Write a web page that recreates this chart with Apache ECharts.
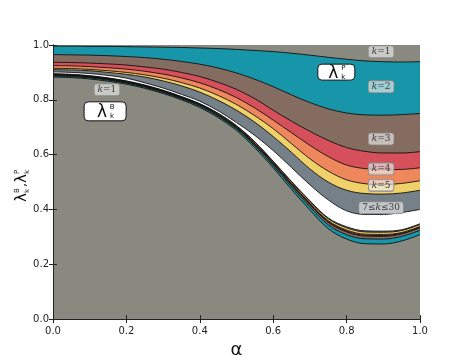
<!DOCTYPE html>
<html><head><meta charset="utf-8">
<script src="https://cdn.jsdelivr.net/npm/echarts@6/dist/echarts.min.js"></script>
<style>html,body{margin:0;padding:0;background:#fff}#c{width:474px;height:364px}</style>
</head><body><div id="c"></div>
<script>
// x values (alpha)
const alpha = [0,0.05,0.1,0.15,0.2,0.25,0.3,0.35,0.4,0.45,0.5,0.55,0.6,0.65,0.7,0.75,0.8,0.85,0.9,0.95,1.0];
// P curves: lower edge of each lambda^P band (stacked down from 1)
const curveP1 = [0.996,0.996,0.995,0.995,0.994,0.993,0.992,0.991,0.989,0.987,0.984,0.980,0.976,0.970,0.963,0.955,0.948,0.942,0.939,0.938,0.939];
const curveP2 = [0.965,0.964,0.963,0.961,0.958,0.954,0.948,0.940,0.930,0.916,0.898,0.875,0.848,0.818,0.790,0.767,0.752,0.745,0.744,0.746,0.750];
const curveP3 = [0.937,0.936,0.934,0.931,0.927,0.920,0.912,0.900,0.885,0.864,0.838,0.804,0.762,0.722,0.685,0.652,0.626,0.612,0.606,0.606,0.611];
const curveP4 = [0.925,0.924,0.921,0.917,0.912,0.904,0.894,0.880,0.862,0.838,0.808,0.770,0.726,0.680,0.634,0.593,0.562,0.549,0.545,0.546,0.552];
const curveP5 = [0.915,0.914,0.911,0.906,0.900,0.891,0.879,0.863,0.843,0.816,0.783,0.742,0.695,0.640,0.585,0.540,0.508,0.494,0.491,0.495,0.505];
const curveP6 = [0.910,0.909,0.906,0.900,0.893,0.883,0.869,0.851,0.828,0.798,0.762,0.718,0.666,0.608,0.548,0.500,0.470,0.458,0.456,0.460,0.470];
const curveP7 = [0.902,0.900,0.896,0.889,0.879,0.862,0.843,0.820,0.795,0.760,0.717,0.670,0.615,0.553,0.490,0.435,0.395,0.382,0.382,0.389,0.400];
// B: lambda^B_1 curve and the thin band values of k=2..6 and 7<=k<=30 stacked on it
const curveB1  = [0.883,0.881,0.876,0.868,0.857,0.842,0.823,0.800,0.772,0.735,0.688,0.625,0.552,0.473,0.398,0.330,0.292,0.275,0.274,0.285,0.308];
const lambdaB2 = [0.004,0.004,0.004,0.004,0.004,0.004,0.004,0.004,0.005,0.005,0.006,0.007,0.008,0.010,0.012,0.014,0.016,0.018,0.018,0.017,0.016];
const lambdaB3 = [0.003,0.003,0.003,0.003,0.003,0.003,0.003,0.003,0.004,0.004,0.004,0.005,0.006,0.007,0.008,0.009,0.010,0.010,0.010,0.009,0.009];
const lambdaB4 = [0.001,0.001,0.001,0.001,0.001,0.001,0.001,0.001,0.001,0.001,0.001,0.002,0.002,0.002,0.002,0.003,0.003,0.003,0.003,0.002,0.002];
const lambdaB5 = [0.001,0.001,0.001,0.001,0.001,0.001,0.001,0.001,0.001,0.002,0.002,0.002,0.002,0.003,0.003,0.003,0.004,0.004,0.004,0.003,0.003];
const lambdaB6 = [0.002,0.002,0.002,0.002,0.002,0.002,0.002,0.002,0.002,0.003,0.003,0.004,0.004,0.005,0.006,0.007,0.008,0.008,0.008,0.007,0.007];
const lambdaB7 = [0.001,0.001,0.001,0.001,0.001,0.001,0.001,0.001,0.001,0.001,0.002,0.002,0.002,0.002,0.003,0.003,0.004,0.004,0.004,0.003,0.003];
// tick labels
const xTicks = ['0.0','0.2','0.4','0.6','0.8','1.0'];
const yTicks = ['0.0','0.2','0.4','0.6','0.8','1.0'];
// annotation texts and their data positions
const tagTexts = ['{i|k}=1','{i|k}=2','{i|k}=3','{i|k}=4','{i|k}=5','7≤{i|k}≤30','{i|k}=1'];
const tagPos = [[0.894,0.975],[0.894,0.848],[0.894,0.657],[0.894,0.548],[0.894,0.488],[0.894,0.406],[0.147,0.837]];
const boxPos = {P:[0.772,0.901], B:[0.142,0.758]};

const C = {gray:'#8a897f', teal:'#1696a8', brown:'#856c60', red:'#d6505c', orange:'#ee885c', yellow:'#f0d068', slate:'#768088', white:'#ffffff'};

function cum(list){ return alpha.map((_,i)=>list.reduce((s,a)=>s+a[i],0)); }
const cumB2 = cum([curveB1,lambdaB2]);
const cumB3 = cum([curveB1,lambdaB2,lambdaB3]);
const cumB4 = cum([curveB1,lambdaB2,lambdaB3,lambdaB4]);
const cumB5 = cum([curveB1,lambdaB2,lambdaB3,lambdaB4,lambdaB5]);
const cumB6 = cum([curveB1,lambdaB2,lambdaB3,lambdaB4,lambdaB5,lambdaB6]);
const cumB7 = cum([curveB1,lambdaB2,lambdaB3,lambdaB4,lambdaB5,lambdaB6,lambdaB7]);

function pts(arr){ return alpha.map((a,i)=>[a, arr[i]]); }
function area(arr,color){
  return {type:'line', data:pts(arr), smooth:0.35, showSymbol:false, symbol:'none',
    lineStyle:{color:'#111', width:0.9}, areaStyle:{color:color, opacity:1},
    z:2, silent:true, animation:false, clip:true};
}
const chart = echarts.init(document.getElementById('c'), null, {renderer:'canvas'});
const axisCommon = {type:'value', min:0, max:1, interval:0.2, z:5,
  splitLine:{show:false},
  axisLine:{show:true, lineStyle:{color:'#222', width:1}},
  axisTick:{show:true, inside:true, length:4, lineStyle:{color:'#222'}}};
chart.setOption({
  animation:false,
  grid:{left:53, right:54, top:45, bottom:36, show:true, backgroundColor:C.gray, borderWidth:0},
  xAxis:[
    Object.assign({}, axisCommon, {position:'bottom', name:'α', nameLocation:'middle', nameGap:21,
      nameTextStyle:{fontSize:18, color:'#111', fontFamily:'DejaVu Sans'},
      axisLabel:{fontSize:10, color:'#222', margin:7, fontFamily:'DejaVu Sans',
        formatter:(v)=>xTicks[Math.round(v/0.2)]}}),
    Object.assign({}, axisCommon, {position:'top', axisLabel:{show:false}})
  ],
  yAxis:[
    Object.assign({}, axisCommon, {position:'left',
      axisLabel:{fontSize:10, color:'#222', margin:4, fontFamily:'DejaVu Sans',
        formatter:(v)=>yTicks[Math.round(v/0.2)]}}),
    Object.assign({}, axisCommon, {position:'right', axisLabel:{show:false}})
  ],
  series:[
    area(curveP1,C.teal), area(curveP2,C.brown), area(curveP3,C.red), area(curveP4,C.orange),
    area(curveP5,C.yellow), area(curveP6,C.slate), area(curveP7,C.white),
    area(cumB7,C.slate), area(cumB6,C.yellow), area(cumB5,C.orange), area(cumB4,C.red),
    area(cumB3,C.brown), area(cumB2,C.teal), area(curveB1,C.gray)
  ]
});

const px = (p)=>chart.convertToPixel({gridIndex:0}, p);
const graphics = [];
tagTexts.forEach((t,i)=>{
  const p = px(tagPos[i]);
  graphics.push({type:'text', x:p[0], y:p[1], z:50, silent:true, style:{
    text:t, fill:'#3a3a3a', fontSize:9, fontFamily:'DejaVu Serif', align:'center', verticalAlign:'middle',
    backgroundColor:'rgba(240,240,240,0.62)', borderColor:'#8a8a8a', borderWidth:0.8, borderRadius:2, padding:[1,3,1,3],
    rich:{i:{fontStyle:'italic', fontSize:9, fontFamily:'DejaVu Serif', fill:'#3a3a3a'}}}});
});
function lamBox(pos, sup, w, h){
  const p = px(pos);
  const cx = p[0], cy = p[1];
  graphics.push({type:'rect', z:50, silent:true, shape:{x:cx-w/2, y:cy-h/2, width:w, height:h, r:4},
    style:{fill:'#fff', stroke:'#111', lineWidth:1}});
  graphics.push({type:'text', z:51, silent:true, x:cx-3, y:cy+1, style:{text:'λ', fontSize:17, fontFamily:'DejaVu Sans', fill:'#111', align:'center', verticalAlign:'middle'}});
  graphics.push({type:'text', z:51, silent:true, x:cx+7, y:cy-4, style:{text:sup, fontSize:7, fontFamily:'DejaVu Sans', fill:'#111', align:'center', verticalAlign:'middle'}});
  graphics.push({type:'text', z:51, silent:true, x:cx+7, y:cy+5, style:{text:'k', fontSize:7, fontFamily:'DejaVu Sans', fill:'#111', align:'center', verticalAlign:'middle'}});
}
lamBox(boxPos.P,'P',37,16);
lamBox(boxPos.B,'B',42,19);
// rotated y-axis title
const yOrigin = px([0,0.5])[1] + 20;
graphics.push({type:'group', x:22, y:yOrigin, rotation:Math.PI/2, silent:true, children:[
  {type:'text', x:0, y:0, style:{text:'λ', fontSize:15, fontFamily:'DejaVu Sans', fill:'#111', verticalAlign:'middle'}},
  {type:'text', x:9, y:-5, style:{text:'B', fontSize:7, fontFamily:'DejaVu Sans', fill:'#111', verticalAlign:'middle'}},
  {type:'text', x:9, y:5, style:{text:'k', fontSize:7, fontFamily:'DejaVu Sans', fill:'#111', verticalAlign:'middle'}},
  {type:'text', x:15, y:1, style:{text:',', fontSize:12, fontFamily:'DejaVu Sans', fill:'#111', verticalAlign:'middle'}},
  {type:'text', x:19, y:0, style:{text:'λ', fontSize:15, fontFamily:'DejaVu Sans', fill:'#111', verticalAlign:'middle'}},
  {type:'text', x:28, y:-5, style:{text:'P', fontSize:7, fontFamily:'DejaVu Sans', fill:'#111', verticalAlign:'middle'}},
  {type:'text', x:28, y:5, style:{text:'k', fontSize:7, fontFamily:'DejaVu Sans', fill:'#111', verticalAlign:'middle'}}
]});
chart.setOption({graphic:graphics});
</script></body></html>
